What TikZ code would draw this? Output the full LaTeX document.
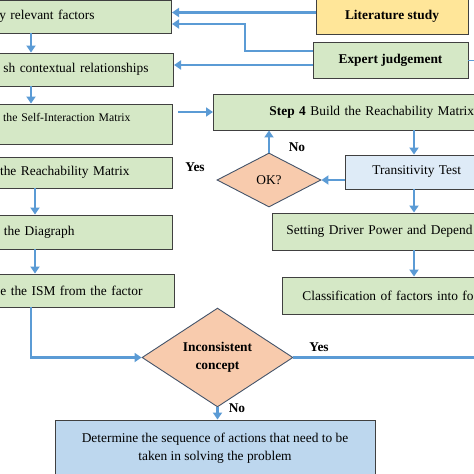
\documentclass[tikz,border=0pt]{standalone}
\usepackage{fontspec}
\setmainfont{Liberation Serif}
\usetikzlibrary{shapes.geometric,arrows.meta}
\definecolor{boxgreen}{HTML}{D5E8C6}
\definecolor{boxyellow}{HTML}{FFE699}
\definecolor{boxblue}{HTML}{BDD7EE}
\definecolor{boxpale}{HTML}{DEEBF7}
\definecolor{boxorange}{HTML}{F8CBAD}
\definecolor{boxline}{HTML}{404040}
\definecolor{dialine}{HTML}{44546A}
\definecolor{flowblue}{HTML}{5B9BD5}
\AtBeginDocument{\fontsize{13.4}{17.5}\selectfont}
\tikzset{
  stepbox/.style={draw=boxline, fill=boxgreen, line width=0.9pt, inner ysep=0pt},
  leftbox/.style={stepbox, anchor=east, text width=260pt, align=right},
  rightbox/.style={stepbox, anchor=west, text width=300pt, align=left},
  decide/.style={diamond, draw=dialine, fill=boxorange, line width=0.9pt, inner sep=0pt, align=center, font=\bfseries},
  flow/.style={draw=flowblue, line width=2.6pt, -{Triangle[length=7pt,width=9pt]}},
  tag/.style={font=\bfseries}
}
\begin{document}
\begin{tikzpicture}[x=1pt,y=-1pt]
\useasboundingbox (0,0) rectangle (474,474);
\clip (0,0) rectangle (474,474);
\coordinate (colA) at (31,0);
\coordinate (colB) at (35,0);
\coordinate (colR) at (414,0);
\coordinate (j1) at (245,0);
\coordinate (rim) at (480,0);

% left column
\node[leftbox, inner xsep=77pt, minimum height=33pt] (s1) at (172,16.5) {y relevant factors};
\node[leftbox, inner xsep=25pt, minimum height=33pt] (s2) at (174,69.5) {sh contextual relationships};
\node[leftbox, inner xsep=42pt, minimum height=40pt, text depth=14pt, font=\fontsize{11.7}{14}\selectfont] (s3) at (173,124) {the Self-Interaction Matrix};
\node[leftbox, inner xsep=43pt, minimum height=31pt] (s4) at (173,172.5) {the Reachability Matrix};
\node[leftbox, inner xsep=98pt, minimum height=34pt] (s5) at (173,232) {the Diagraph};
\node[leftbox, inner xsep=32pt, minimum height=33pt] (s6) at (175,290.5) {e the ISM from the factor};

% sources
\node[stepbox, fill=boxyellow, minimum width=152pt, minimum height=35pt, font=\bfseries] (lit) at (392,16.5) {Literature study};
\node[stepbox, minimum width=155pt, minimum height=36pt, font=\bfseries] (exp) at (390.5,60) {Expert judgement};

% right column
\node[rightbox, inner xsep=56pt, minimum height=36pt] (s7) at (213,112) {\textbf{Step 4} Build the Reachability Matrix};
\node[rightbox, fill=boxpale, inner xsep=27pt, minimum height=34pt] (tt) at (345,172) {Transitivity Test};
\node[rightbox, inner xsep=14pt, minimum height=37pt] (sd) at (272,231.5) {Setting Driver Power and Depend};
\node[rightbox, inner xsep=20pt, minimum height=37pt] (cf) at (282,295.5) {Classification of factors into fo};

% decisions
\node[decide, minimum width=104pt, minimum height=54pt] (ok) at (269,180) {\mdseries OK?};
\node[decide, minimum width=151pt, minimum height=81pt] (ic) at (217.5,357.5) {Inconsistent\\concept};

\node[stepbox, fill=boxblue, minimum width=320pt, minimum height=56pt, align=center] (fin) at (215,448) {Determine the sequence of actions that need to be\\taken in solving the problem};

% labels
\node[tag] (yes1) at (195,167) {Yes};
\node[tag] (no1) at (297,147) {No};
\node[tag] (yes2) at (319,347) {Yes};
\node[tag] (no2) at (237,408) {No};

% connectors
\coordinate (l1) at ([yshift=4pt]lit.west);
\coordinate (e1) at ([yshift=9pt]exp.west);
\coordinate (e2) at ([yshift=-7.5pt]s1.east);
\coordinate (e3) at ([yshift=-5pt]exp.west);
\path[flow] (l1) -- (l1 -| s1.east);
\path[flow] (e1) -- (e1 -| j1) |- (e2);
\path[flow] (e3) -- (e3 -| s2.east);
\path[draw=flowblue, line width=1pt] (exp.east) -- (exp.east -| rim);
\path[flow] (colA |- s1.south) -- (colA |- s2.north);
\path[flow] (colA |- s2.south) -- (colA |- s3.north);
\path[flow] (colB |- s4.south) -- (colB |- s5.north);
\path[flow] (colB |- s5.south) -- (colB |- s6.north);
\path[flow, shorten <=5pt] (s7.west -| s3.east) -- (s7.west);
\path[flow] (colR |- s7.south) -- (colR |- tt.north);
\path[flow] (ok.east -| tt.west) -- (ok.east);
\path[flow] (ok.north) -- (ok.north |- s7.south);
\path[flow] (colR |- tt.south) -- (colR |- sd.north);
\path[flow] (colR |- sd.south) -- (colR |- cf.north);
\path[flow] (colA |- s6.south) |- (ic.west);
\path[draw=flowblue, line width=2.6pt] (ic.east) -- (ic.east -| rim);
\path[flow] (ic.south) -- (ic.south |- fin.north);
\end{tikzpicture}
\end{document}
